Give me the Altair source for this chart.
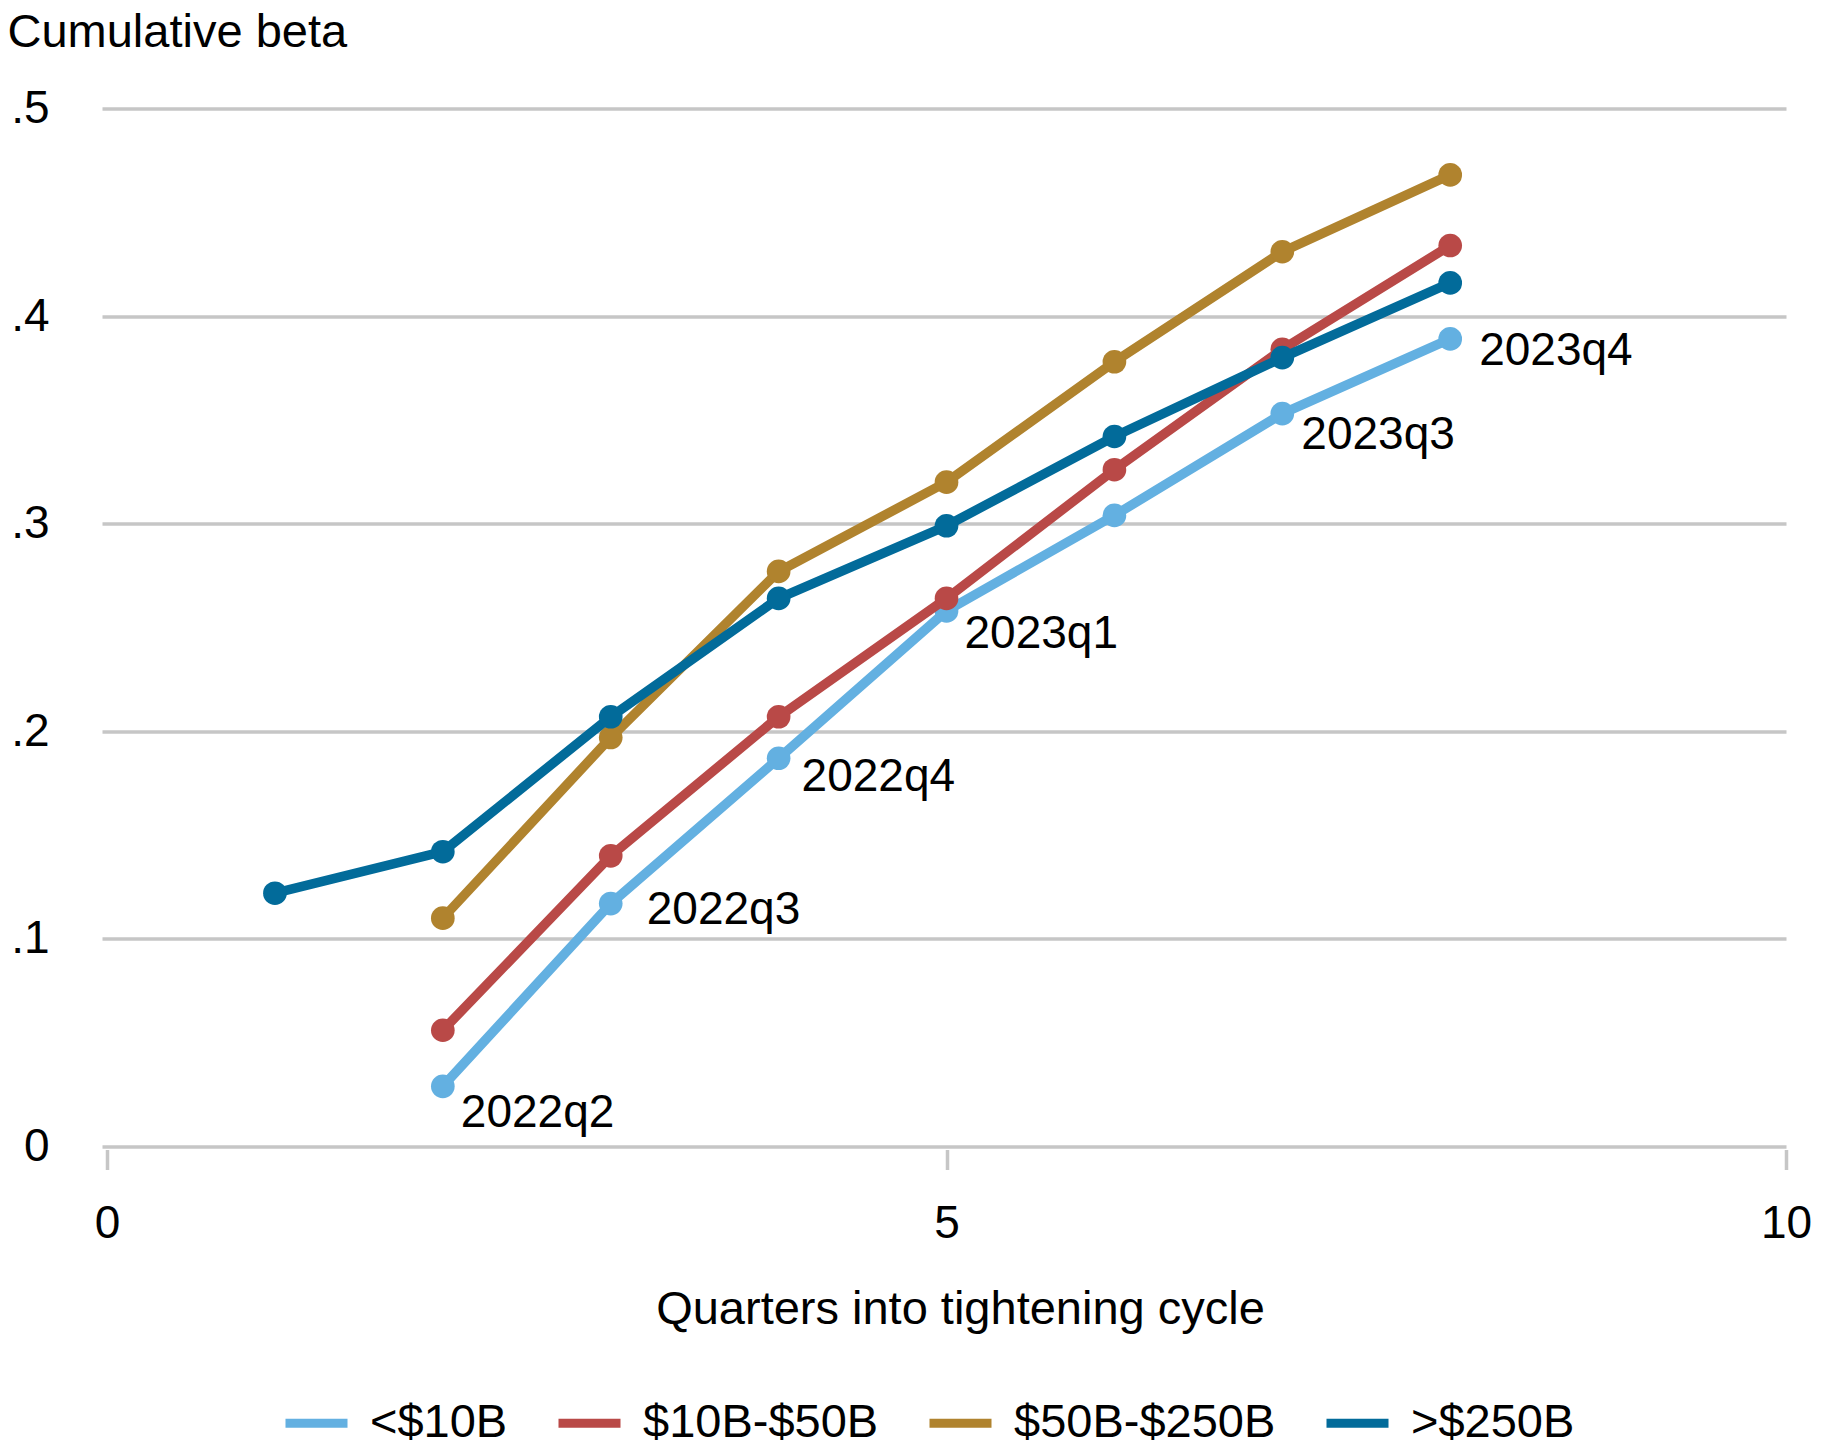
import altair as alt
import pandas as pd

# Quarters into the tightening cycle and the cumulative deposit beta by bank size
quarters = [1, 2, 3, 4, 5, 6, 7, 8]
series_names = ["<$10B", "$10B-$50B", "$50B-$250B", ">$250B"]
beta_lt10 = [None, 0.029, 0.117, 0.187, 0.258, 0.304, 0.353, 0.389]
beta_10_50 = [None, 0.056, 0.140, 0.207, 0.264, 0.326, 0.384, 0.434]
beta_50_250 = [None, 0.110, 0.197, 0.277, 0.320, 0.378, 0.431, 0.468]
beta_gt250 = [0.122, 0.142, 0.207, 0.264, 0.299, 0.342, 0.380, 0.416]

# Calendar quarters annotated along the smallest-bank series
label_quarters = [2, 3, 4, 5, 7, 8]
label_texts = ["2022q2", "2022q3", "2022q4", "2023q1", "2023q3", "2023q4"]

# Styling
colors = ["#63B0E1", "#B94947", "#B0832E", "#026B9A"]
grid_color = "#C6C6C6"
font = "Liberation Sans"
label_offsets = {
    "2022q2": (18, 27),
    "2022q3": (36, 6),
    "2022q4": (23, 19),
    "2023q1": (18, 23),
    "2023q3": (19, 21),
    "2023q4": (29, 12),
}

all_series = [beta_lt10, beta_10_50, beta_50_250, beta_gt250]
rows = []
for name, values in zip(series_names, all_series):
    for q, v in zip(quarters, values):
        if v is not None:
            rows.append({"series": name, "quarter": q, "beta": v})
df = pd.DataFrame(rows)

label_df = pd.DataFrame({
    "quarter": label_quarters,
    "beta": [beta_lt10[quarters.index(q)] for q in label_quarters],
    "label": label_texts,
})

x_enc = alt.X(
    "quarter:Q",
    scale=alt.Scale(domain=[-0.03, 10], nice=False, zero=False),
    axis=alt.Axis(
        values=[0, 5, 10],
        title="Quarters into tightening cycle",
        grid=False,
        domain=False,
        ticks=True,
        tickSize=20,
        tickWidth=3.5,
        tickColor=grid_color,
        offset=3,
        labelFont=font,
        labelFontSize=46,
        labelColor="black",
        labelPadding=32,
        labelFlush=False,
        labelOverlap=False,
        titleFont=font,
        titleFontSize=47,
        titleFontWeight="normal",
        titleColor="black",
        titleAlign="center",
        titleBaseline="alphabetic",
        titleX=858,
        titleY=174,
    ),
)
y_enc = alt.Y(
    "beta:Q",
    scale=alt.Scale(domain=[0, 0.5], nice=False),
    axis=alt.Axis(
        values=[0, 0.1, 0.2, 0.3, 0.4, 0.5],
        labelExpr="datum.value == 0 ? '0' : replace(format(datum.value, '.1f'), '0.', '.')",
        grid=True,
        gridColor=grid_color,
        gridWidth=3.5,
        domain=False,
        ticks=False,
        labelFont=font,
        labelFontSize=46,
        labelColor="black",
        labelPadding=53,
        labelFlush=False,
        title="Cumulative beta",
        titleFont=font,
        titleFontSize=47,
        titleFontWeight="normal",
        titleColor="black",
        titleAngle=0,
        titleAlign="left",
        titleBaseline="alphabetic",
        titleX=-95,
        titleY=-62,
    ),
)

legend = alt.Legend(
    orient="none",
    legendX=179,
    legendY=1279,
    direction="horizontal",
    columns=4,
    title=None,
    symbolType="stroke",
    symbolSize=3844,
    symbolStrokeWidth=9,
    symbolOpacity=1,
    labelFont=font,
    labelFontSize=47,
    labelColor="black",
    labelOffset=18,
    labelLimit=0,
    columnPadding=32,
)
color_enc = alt.Color(
    "series:N",
    scale=alt.Scale(domain=series_names, range=colors),
    sort=series_names,
    legend=legend,
)

layers = []
for name in series_names:
    base = alt.Chart(df).transform_filter(alt.datum.series == name)
    layers.append(
        base.mark_line(strokeWidth=9.5, strokeJoin="round").encode(
            x=x_enc, y=y_enc, color=color_enc
        )
    )
    layers.append(
        base.mark_point(filled=True, size=560, opacity=1, shape="circle").encode(
            x=x_enc, y=y_enc, color=color_enc
        )
    )

for text in label_texts:
    dx, dy = label_offsets[text]
    layers.append(
        alt.Chart(label_df)
        .transform_filter(alt.datum.label == text)
        .mark_text(
            align="left",
            baseline="middle",
            dx=dx,
            dy=dy,
            font=font,
            fontSize=46,
            color="black",
        )
        .encode(x=x_enc, y=y_enc, text="label:N")
    )

chart = (
    alt.layer(*layers)
    .properties(
        width=1684,
        height=1038,
        padding={"left": 102, "top": 108.5, "right": 54, "bottom": 303.5},
        autosize=alt.AutoSizeParams(type="none"),
        background="white",
    )
    .configure_view(stroke=None)
)

chart.save("out.html", embed_options={"renderer": "svg", "actions": False})
